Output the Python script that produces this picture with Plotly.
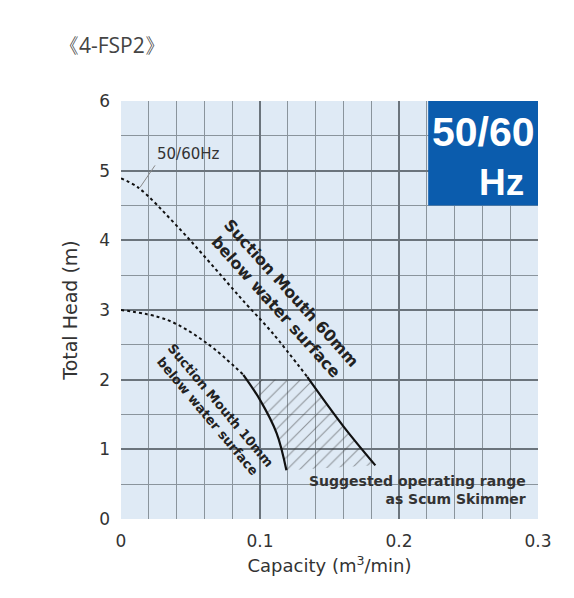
import plotly.graph_objects as go

# pump curve readings (capacity m3/min, head m)
mm60_dot_x = [0, 0.0122, 0.041, 0.081, 0.088, 0.109, 0.134]
mm60_dot_y = [4.89, 4.76, 4.19, 3.29, 3.13, 2.67, 2.04]
mm60_sol_x = [0.134, 0.16, 0.183]
mm60_sol_y = [2.04, 1.33, 0.77]

mm10_dot_x = [0, 0.033, 0.062, 0.088]
mm10_dot_y = [3.0, 2.86, 2.52, 2.07]
mm10_sol_x = [0.088, 0.1, 0.112, 0.119]
mm10_sol_y = [2.07, 1.71, 1.23, 0.70]

# suggested operating range (hatched)
range_x = [0.092, 0.1, 0.112, 0.119, 0.183, 0.16, 0.136]
range_y = [2.0, 1.71, 1.23, 0.70, 0.77, 1.33, 2.0]

x_ticks = [0, 0.1, 0.2, 0.3]
x_tick_labels = ["0", "0.1", "0.2", "0.3"]
y_ticks = [0, 1, 2, 3, 4, 5, 6]

FONT = "DejaVu Sans, Liberation Sans, Arial"

fig = go.Figure()

fig.add_trace(go.Scatter(x=range_x, y=range_y, fill="toself", mode="none",
                         fillcolor="rgba(0,0,0,0)",
                         fillpattern=dict(shape="/", fgcolor="#3a3a3a", size=9, solidity=0.12,
                                          bgcolor="rgba(0,0,0,0)"),
                         hoverinfo="skip"))

dot = dict(color="#111111", width=2, dash="3px,3px")
sol = dict(color="#111111", width=2.2)
fig.add_trace(go.Scatter(x=mm60_dot_x, y=mm60_dot_y, mode="lines", line=dict(shape="spline", **dot)))
fig.add_trace(go.Scatter(x=mm60_sol_x, y=mm60_sol_y, mode="lines", line=dict(shape="spline", **sol)))
fig.add_trace(go.Scatter(x=mm10_dot_x, y=mm10_dot_y, mode="lines", line=dict(shape="spline", **dot)))
fig.add_trace(go.Scatter(x=mm10_sol_x, y=mm10_sol_y, mode="lines", line=dict(shape="spline", **sol)))

# 50/60 Hz badge
fig.add_shape(type="rect", x0=0.221, x1=0.3, y0=4.5, y1=6, xref="x", yref="y",
              fillcolor="#0b5cad", line=dict(width=0), layer="above")
fig.add_annotation(x=0.2605, y=5.55, text="<b>50/60</b>", showarrow=False,
                   font=dict(family="Liberation Sans, Arial", size=41, color="white"))
fig.add_annotation(x=0.2915, y=4.83, text="<b>Hz</b>", showarrow=False, xanchor="right",
                   font=dict(family="Liberation Sans, Arial", size=37, color="white"))

fig.add_annotation(x=0.0137, y=4.76, ax=15, ay=-22, text="50/60Hz", showarrow=True,
                   arrowhead=0, arrowwidth=1, arrowcolor="#888888", xanchor="left", yanchor="bottom",
                   font=dict(family=FONT, size=15, color="#333333"))

fig.add_annotation(x=0.117, y=3.15, text="<b>Suction Mouth 60mm<br>below water surface</b>",
                   showarrow=False, textangle=48,
                   font=dict(family=FONT, size=16, color="#222222"))
fig.add_annotation(x=0.067, y=1.55, text="<b>Suction Mouth 10mm<br>below water surface</b>",
                   showarrow=False, textangle=50,
                   font=dict(family=FONT, size=13, color="#222222"))
fig.add_annotation(x=0.293, y=0.42, text="<b>Suggested operating range<br>as Scum Skimmer</b>",
                   showarrow=False, xanchor="right", align="right",
                   font=dict(family=FONT, size=14, color="#333333"))

fig.add_annotation(xref="paper", yref="paper", x=-0.155, y=1.134, text="《4-FSP2》",
                   showarrow=False, xanchor="left", yanchor="middle",
                   font=dict(family="Open Sans, Noto Sans", size=21, color="#444444"))

fig.update_layout(
    width=566, height=590,
    margin=dict(l=113, r=36, t=93, b=79),
    paper_bgcolor="white", plot_bgcolor="#dfeaf5",
    showlegend=False,
    font=dict(family=FONT, size=17, color="#333333"),
)
fig.update_xaxes(range=[0, 0.3], tickvals=x_ticks, ticktext=x_tick_labels,
                 showgrid=True, gridcolor="#6b747c", gridwidth=1.5,
                 minor=dict(dtick=0.02, showgrid=True, gridcolor="#8a949c", gridwidth=1),
                 zeroline=False, showline=False, ticks="", ticklabelstandoff=10,
                 title=dict(text="Capacity (m<sup>3</sup>/min)", font=dict(size=18), standoff=9))
fig.update_yaxes(range=[0, 6], tickvals=y_ticks,
                 showgrid=True, gridcolor="#6b747c", gridwidth=1.5,
                 minor=dict(dtick=0.5, showgrid=True, gridcolor="#8a949c", gridwidth=1),
                 zeroline=False, showline=False, ticks="", ticklabelstandoff=10,
                 title=dict(text="Total Head (m)", font=dict(size=19), standoff=16))

fig.write_html("out.html")
